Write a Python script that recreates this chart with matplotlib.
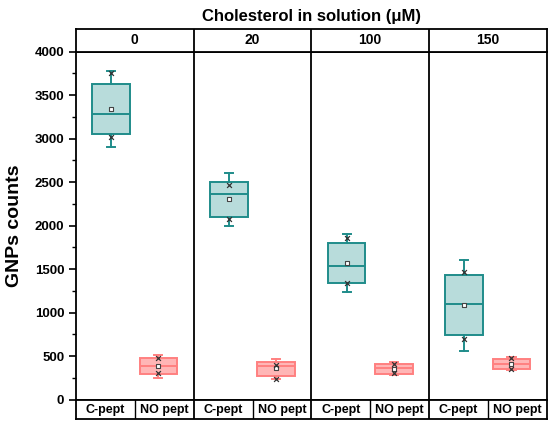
import matplotlib
matplotlib.use('Agg')
import matplotlib.pyplot as plt

plt.rcParams['font.family'] = ['Liberation Sans', 'DejaVu Sans']
plt.rcParams['font.weight'] = 'bold'

# Cholesterol concentrations (uM) and group labels
conc_labels = ['0', '20', '100', '150']
group_labels = ['C-pept', 'NO pept']

# C-pept box statistics per concentration
cpept_whishi = [3775, 2605, 1905, 1605]
cpept_q3 = [3632, 2502, 1798, 1435]
cpept_med = [3284, 2364, 1540, 1095]
cpept_mean = [3341, 2303, 1575, 1088]
cpept_q1 = [3050, 2096, 1345, 738]
cpept_whislo = [2908, 2000, 1234, 563]
cpept_xhi = [3760, 2467, 1855, 1462]
cpept_xlo = [3014, 2077, 1340, 696]

# NO pept box statistics per concentration
nopept_whishi = [514, 464, 430, 487]
nopept_q3 = [475, 430, 410, 464]
nopept_med = [387, 391, 360, 410]
nopept_mean = [388, 360, 350, 405]
nopept_q1 = [292, 276, 299, 353]
nopept_whislo = [253, 240, 280, 338]
nopept_xhi = [483, 400, 405, 475]
nopept_xlo = [303, 241, 303, 349]

teal_edge = '#1f8c8a'
teal_fill = '#b8dcdb'
red_edge = '#ff8080'
red_fill = '#ffb6b6'

W, H = 550, 423
fig = plt.figure(figsize=(W / 100, H / 100), dpi=100)

x0, x1 = 76, 546.7
y_top, y_head, y_zero, y_bot = 29, 51.7, 399.5, 419.3


def box(px_l, px_t, px_r, px_b):
    return [px_l / W, (H - px_b) / H, (px_r - px_l) / W, (px_b - px_t) / H]


ax = fig.add_axes(box(x0, y_head, x1, y_zero))
head = fig.add_axes(box(x0, y_top, x1, y_head))
foot = fig.add_axes(box(x0, y_zero, x1, y_bot))


def stats(whislo, q1, med, mean, q3, whishi):
    out = []
    for i in range(len(med)):
        out.append(dict(whislo=whislo[i], q1=q1[i], med=med[i], mean=mean[i],
                        q3=q3[i], whishi=whishi[i], fliers=[]))
    return out


groups = [
    (stats(cpept_whislo, cpept_q1, cpept_med, cpept_mean, cpept_q3, cpept_whishi),
     cpept_mean, cpept_xlo, cpept_xhi, 0.3, teal_edge, teal_fill),
    (stats(nopept_whislo, nopept_q1, nopept_med, nopept_mean, nopept_q3, nopept_whishi),
     nopept_mean, nopept_xlo, nopept_xhi, 0.7, red_edge, red_fill),
]

for st, mean, xlo, xhi, off, ec, fc in groups:
    pos = [i + off for i in range(len(st))]
    ax.bxp(st, positions=pos, widths=0.32, patch_artist=True, showmeans=False,
           capwidths=0.07,
           boxprops=dict(facecolor=fc, edgecolor=ec, linewidth=1.4),
           medianprops=dict(color=ec, linewidth=1.4),
           whiskerprops=dict(color=ec, linewidth=1.4),
           capprops=dict(color=ec, linewidth=1.4))
    ax.scatter(pos, mean, marker='s', s=12, facecolor='white',
               edgecolor='#444444', linewidth=0.8, zorder=5)
    ax.scatter(pos + pos, xlo + xhi, marker='x', s=12, color='#333333',
               linewidth=0.9, zorder=5)

ax.set_xlim(0, 4)
ax.set_ylim(0, 4000)
ax.set_yticks(range(0, 4001, 500))
ax.set_yticks(range(250, 4000, 500), minor=True)
ax.set_xticks([])
ax.tick_params(axis='y', which='major', length=5, width=1.2, labelsize=9.5)
ax.tick_params(axis='y', which='minor', length=3, width=1.0)
for lbl in ax.get_yticklabels():
    lbl.set_fontweight('bold')
for s in ax.spines.values():
    s.set_linewidth(1.3)
for i in range(1, 4):
    ax.axvline(i, color='black', linewidth=1.3)
ax.set_ylabel('GNPs counts', fontsize=14, fontweight='bold', labelpad=8)

for a in (head, foot):
    a.set_xlim(0, 4)
    a.set_ylim(0, 1)
    a.set_xticks([])
    a.set_yticks([])
    for s in a.spines.values():
        s.set_linewidth(1.3)

for i, c in enumerate(conc_labels):
    head.text(i + 0.5, 0.5, c, ha='center', va='center', fontsize=10,
              fontweight='bold')
    if i > 0:
        head.axvline(i, color='black', linewidth=1.3)
        foot.axvline(i, color='black', linewidth=1.3)
    foot.axvline(i + 0.5, color='black', linewidth=1.0)
    for j, g in enumerate(group_labels):
        foot.text(i + 0.25 + 0.5 * j, 0.45, g, ha='center', va='center',
                  fontsize=9, fontweight='bold')

head.set_title('Cholesterol in solution (μM)', fontsize=12, fontweight='bold',
               pad=6)

fig.savefig('out.png', dpi=100)
